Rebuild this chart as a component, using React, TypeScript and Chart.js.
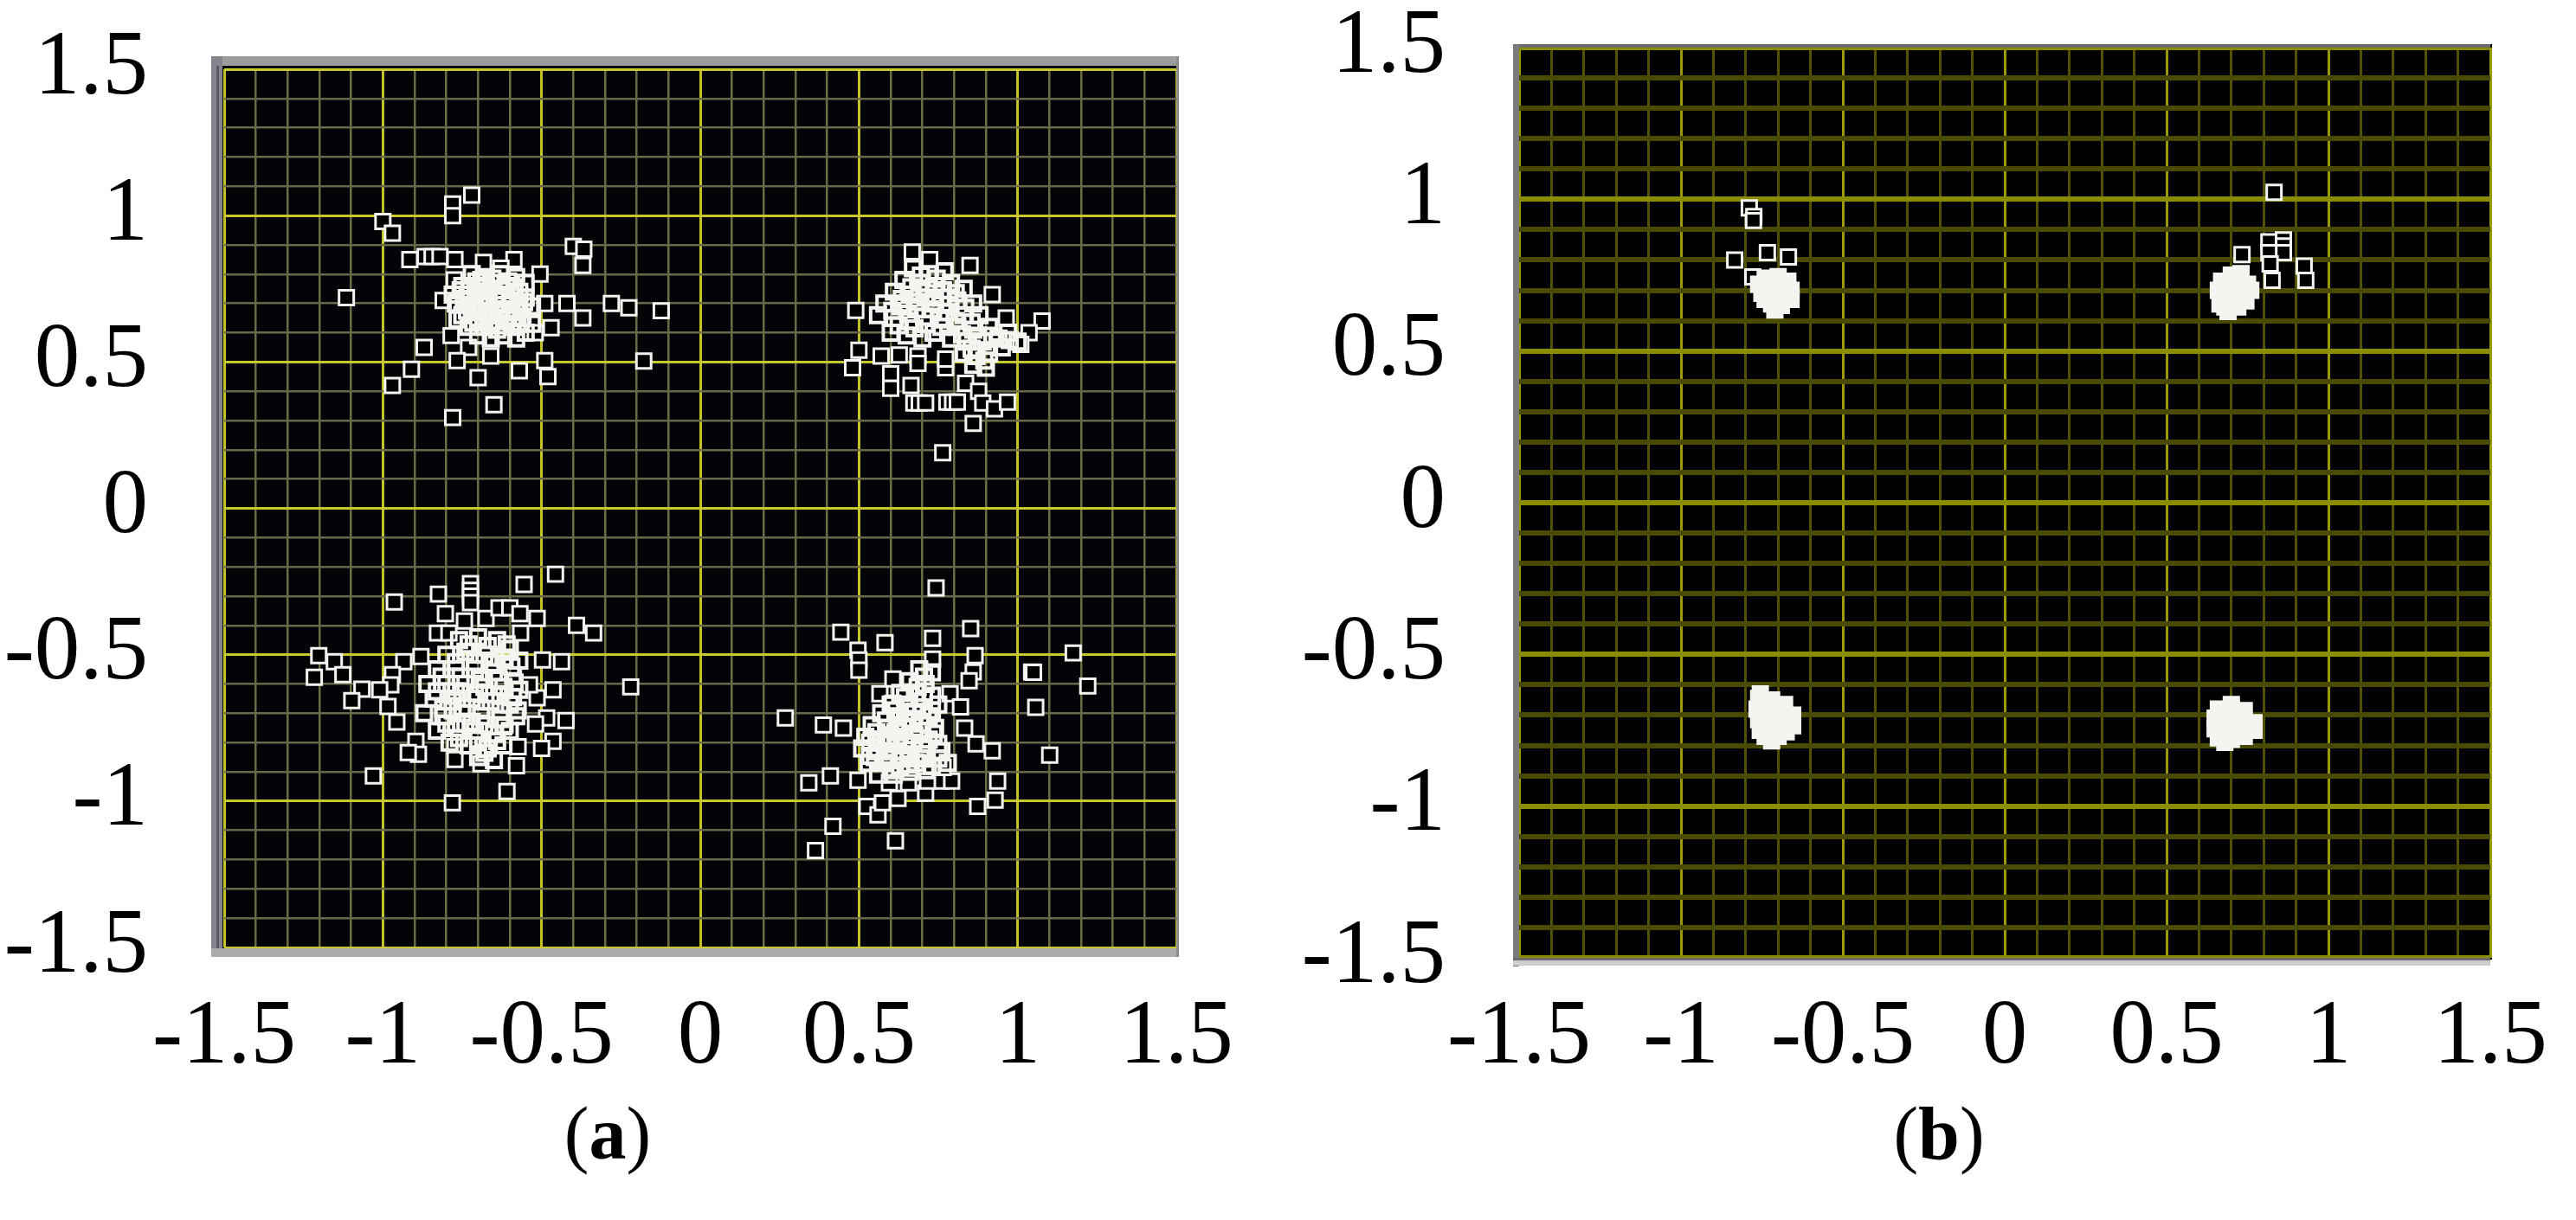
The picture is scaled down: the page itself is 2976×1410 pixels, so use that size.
import React, { useEffect, useRef } from "react";
import { Chart, registerables } from "chart.js";

Chart.register(...registerables);

type P = [number, number];

// ---------- axis definition ----------
const axisMin = -1.5;
const axisMax = 1.5;
const gridStep = 0.1;
const majorStep = 0.5;

// ---------- panel (a): four noisy clusters ----------
const aTopLeftCore: P[] = [
  [-0.72, 0.8], [-0.68, 0.79], [-0.63, 0.8], [-0.58, 0.79], [-0.55, 0.77], [-0.75, 0.76], [-0.7, 0.76],
  [-0.66, 0.77], [-0.61, 0.76], [-0.57, 0.74], [-0.78, 0.73], [-0.73, 0.73], [-0.69, 0.72], [-0.64, 0.73],
  [-0.6, 0.71], [-0.55, 0.72], [-0.53, 0.69], [-0.77, 0.7], [-0.72, 0.69], [-0.67, 0.7], [-0.63, 0.68],
  [-0.58, 0.68], [-0.75, 0.66], [-0.7, 0.65], [-0.66, 0.66], [-0.61, 0.65], [-0.56, 0.65], [-0.53, 0.63],
  [-0.73, 0.62], [-0.68, 0.62], [-0.64, 0.61], [-0.59, 0.62], [-0.55, 0.6], [-0.7, 0.59], [-0.66, 0.58],
  [-0.62, 0.59], [-0.58, 0.58], [-0.67, 0.74], [-0.62, 0.72], [-0.71, 0.68], [-0.6, 0.67], [-0.65, 0.64],
  [-0.69, 0.78], [-0.57, 0.7],
  [-0.705, 0.775], [-0.655, 0.785], [-0.605, 0.775], [-0.725, 0.745], [-0.675, 0.755], [-0.625, 0.745],
  [-0.585, 0.755], [-0.745, 0.715], [-0.695, 0.705], [-0.645, 0.715], [-0.595, 0.695], [-0.555, 0.705],
  [-0.735, 0.675], [-0.685, 0.675], [-0.635, 0.665], [-0.585, 0.655], [-0.715, 0.635], [-0.665, 0.625],
  [-0.615, 0.625], [-0.565, 0.635], [-0.765, 0.645], [-0.755, 0.745],
];
const aTopLeftOuter: P[] = [
  [-0.72, 1.07], [-0.78, 1.04], [-0.78, 1.0], [-1.0, 0.98], [-0.97, 0.94], [-0.915, 0.85], [-0.867, 0.86],
  [-0.845, 0.86], [-0.82, 0.86], [-0.773, 0.85], [-0.683, 0.84], [-0.587, 0.85], [-0.628, 0.82], [-0.505, 0.8],
  [-0.4, 0.895], [-0.367, 0.885], [-0.37, 0.83], [-1.115, 0.72], [-0.775, 0.78], [-0.81, 0.71], [-0.49, 0.7],
  [-0.42, 0.7], [-0.37, 0.65], [-0.28, 0.7], [-0.225, 0.685], [-0.123, 0.675], [-0.47, 0.617], [-0.52, 0.6],
  [-0.785, 0.59], [-0.73, 0.55], [-0.87, 0.55], [-0.766, 0.505], [-0.66, 0.52], [-0.49, 0.505], [-0.178, 0.503],
  [-0.91, 0.475], [-0.97, 0.42], [-0.7, 0.446], [-0.57, 0.47], [-0.48, 0.45], [-0.65, 0.354], [-0.78, 0.31],
];
const aTopRightCore: P[] = [
  [0.67, 0.82], [0.72, 0.8], [0.77, 0.81], [0.64, 0.78], [0.69, 0.77], [0.74, 0.76], [0.79, 0.77], [0.83, 0.75],
  [0.61, 0.74], [0.66, 0.73], [0.71, 0.72], [0.76, 0.72], [0.81, 0.71], [0.86, 0.7], [0.58, 0.7], [0.63, 0.69],
  [0.68, 0.68], [0.73, 0.68], [0.78, 0.67], [0.83, 0.66], [0.88, 0.66], [0.56, 0.66], [0.61, 0.65], [0.66, 0.64],
  [0.71, 0.63], [0.76, 0.62], [0.81, 0.62], [0.86, 0.61], [0.91, 0.62], [0.6, 0.6], [0.65, 0.59], [0.7, 0.58],
  [0.79, 0.58], [0.84, 0.57], [0.89, 0.57], [0.94, 0.58], [0.83, 0.53], [0.87, 0.52], [0.91, 0.53], [0.86, 0.49],
  [0.9, 0.48], [0.97, 0.6], [1.0, 0.57], [0.95, 0.55], [0.74, 0.7], [0.69, 0.74], [0.64, 0.7], [0.77, 0.65],
  [0.695, 0.795], [0.745, 0.785], [0.665, 0.755], [0.715, 0.75], [0.765, 0.745], [0.805, 0.735], [0.635, 0.715],
  [0.685, 0.705], [0.735, 0.705], [0.785, 0.695], [0.835, 0.685], [0.605, 0.675], [0.655, 0.665], [0.705, 0.655],
  [0.755, 0.645], [0.805, 0.64], [0.855, 0.635], [0.625, 0.625], [0.675, 0.615], [0.735, 0.6], [0.825, 0.595],
  [0.875, 0.59], [0.92, 0.59], [0.855, 0.545], [0.895, 0.505], [0.975, 0.575],
];
const aTopRightOuter: P[] = [
  [0.668, 0.876], [0.723, 0.85], [0.85, 0.83], [0.49, 0.676], [0.92, 0.73], [0.964, 0.65], [1.077, 0.64],
  [1.036, 0.6], [1.01, 0.56], [0.5, 0.54], [0.48, 0.48], [0.57, 0.52], [0.627, 0.524], [0.686, 0.52],
  [0.686, 0.495], [0.6, 0.46], [0.6, 0.41], [0.664, 0.42], [0.673, 0.36], [0.69, 0.36], [0.71, 0.36],
  [0.777, 0.363], [0.795, 0.363], [0.81, 0.363], [0.773, 0.48], [0.773, 0.51], [0.836, 0.427], [0.877, 0.4],
  [0.89, 0.36], [0.927, 0.34], [0.968, 0.363], [0.86, 0.29], [0.764, 0.19],
];
const aBottomLeftCore: P[] = [
  [-0.76, -0.45], [-0.7, -0.44], [-0.64, -0.45], [-0.6, -0.48], [-0.8, -0.5], [-0.74, -0.49], [-0.68, -0.5],
  [-0.62, -0.51], [-0.57, -0.52], [-0.83, -0.55], [-0.77, -0.55], [-0.71, -0.55], [-0.65, -0.56], [-0.59, -0.57],
  [-0.86, -0.6], [-0.8, -0.6], [-0.74, -0.6], [-0.68, -0.61], [-0.62, -0.61], [-0.57, -0.62], [-0.84, -0.65],
  [-0.78, -0.66], [-0.72, -0.65], [-0.66, -0.66], [-0.6, -0.67], [-0.87, -0.7], [-0.81, -0.71], [-0.75, -0.7],
  [-0.69, -0.71], [-0.63, -0.72], [-0.58, -0.71], [-0.83, -0.76], [-0.77, -0.75], [-0.71, -0.76], [-0.65, -0.77],
  [-0.6, -0.76], [-0.79, -0.8], [-0.73, -0.81], [-0.67, -0.82], [-0.62, -0.81], [-0.7, -0.85], [-0.65, -0.86],
  [-0.75, -0.63], [-0.69, -0.58], [-0.63, -0.64], [-0.78, -0.69], [-0.72, -0.73], [-0.66, -0.53],
  [-0.73, -0.465], [-0.67, -0.47], [-0.61, -0.465], [-0.77, -0.525], [-0.71, -0.525], [-0.65, -0.53],
  [-0.595, -0.54], [-0.815, -0.575], [-0.755, -0.575], [-0.695, -0.585], [-0.635, -0.585], [-0.585, -0.595],
  [-0.83, -0.625], [-0.77, -0.625], [-0.71, -0.63], [-0.65, -0.635], [-0.59, -0.645], [-0.81, -0.685],
  [-0.75, -0.68], [-0.69, -0.685], [-0.63, -0.69], [-0.575, -0.69], [-0.8, -0.735], [-0.74, -0.735],
  [-0.68, -0.74], [-0.62, -0.745], [-0.76, -0.785], [-0.7, -0.79], [-0.64, -0.795], [-0.68, -0.835],
];
const aBottomLeftOuter: P[] = [
  [-0.456, -0.225], [-0.555, -0.26], [-0.724, -0.257], [-0.724, -0.28], [-0.724, -0.3], [-0.825, -0.293],
  [-0.964, -0.32], [-0.724, -0.322], [-0.803, -0.36], [-0.743, -0.385], [-0.675, -0.376], [-0.634, -0.34],
  [-0.6, -0.34], [-0.568, -0.36], [-0.514, -0.376], [-0.39, -0.4], [-0.336, -0.426], [-0.828, -0.426],
  [-0.792, -0.426], [-0.566, -0.426], [-1.202, -0.503], [-1.153, -0.524], [-1.126, -0.568], [-1.216, -0.577],
  [-0.934, -0.524], [-0.88, -0.506], [-0.97, -0.568], [-0.975, -0.603], [-1.066, -0.618], [-1.098, -0.657],
  [-1.01, -0.62], [-0.984, -0.677], [-0.956, -0.73], [-0.497, -0.518], [-0.437, -0.524], [-0.464, -0.62],
  [-0.514, -0.647], [-0.538, -0.603], [-0.219, -0.61], [-0.484, -0.716], [-0.423, -0.725], [-0.519, -0.737],
  [-0.464, -0.796], [-0.5, -0.82], [-0.896, -0.796], [-0.888, -0.84], [-0.92, -0.834], [-0.773, -0.814],
  [-0.773, -0.858], [-0.691, -0.873], [-0.579, -0.879], [-0.574, -0.814], [-0.615, -0.74], [-1.03, -0.914],
  [-0.609, -0.967], [-0.781, -1.006],
];
const aBottomRightCore: P[] = [
  [0.69, -0.55], [0.73, -0.56], [0.66, -0.59], [0.71, -0.6], [0.63, -0.63], [0.68, -0.63], [0.73, -0.64],
  [0.6, -0.67], [0.65, -0.67], [0.7, -0.68], [0.75, -0.67], [0.57, -0.7], [0.62, -0.71], [0.67, -0.72],
  [0.72, -0.71], [0.54, -0.74], [0.59, -0.75], [0.64, -0.75], [0.69, -0.76], [0.74, -0.75], [0.52, -0.78],
  [0.57, -0.79], [0.62, -0.79], [0.67, -0.8], [0.72, -0.79], [0.51, -0.82], [0.56, -0.83], [0.61, -0.83],
  [0.66, -0.84], [0.71, -0.84], [0.76, -0.83], [0.53, -0.87], [0.58, -0.87], [0.63, -0.88], [0.68, -0.87],
  [0.73, -0.88], [0.78, -0.87], [0.56, -0.91], [0.61, -0.91], [0.66, -0.9], [0.6, -0.78], [0.65, -0.7],
  [0.7, -0.82], [0.55, -0.85],
  [0.705, -0.575], [0.685, -0.61], [0.645, -0.645], [0.705, -0.65], [0.615, -0.69], [0.675, -0.695],
  [0.73, -0.69], [0.585, -0.725], [0.645, -0.73], [0.7, -0.735], [0.555, -0.765], [0.615, -0.765],
  [0.675, -0.775], [0.735, -0.77], [0.535, -0.8], [0.59, -0.805], [0.645, -0.81], [0.7, -0.805],
  [0.75, -0.805], [0.535, -0.845], [0.585, -0.85], [0.64, -0.855], [0.695, -0.855], [0.75, -0.855],
  [0.6, -0.895], [0.655, -0.875], [0.71, -0.895],
];
const aBottomRightOuter: P[] = [
  [0.743, -0.272], [0.443, -0.423], [0.582, -0.459], [0.732, -0.444], [0.852, -0.411], [0.497, -0.485],
  [0.5, -0.518], [0.5, -0.553], [0.732, -0.515], [0.866, -0.503], [0.86, -0.559], [0.847, -0.589],
  [1.175, -0.494], [1.044, -0.559], [1.05, -0.56], [1.221, -0.607], [1.057, -0.68], [1.101, -0.843],
  [0.268, -0.716], [0.388, -0.74], [0.451, -0.751], [0.607, -0.583], [0.566, -0.633], [0.607, -0.666],
  [0.787, -0.633], [0.82, -0.678], [0.833, -0.751], [0.869, -0.805], [0.92, -0.828], [0.342, -0.938],
  [0.41, -0.914], [0.497, -0.929], [0.525, -1.018], [0.56, -1.047], [0.574, -1.006], [0.623, -0.991],
  [0.71, -0.973], [0.757, -0.932], [0.792, -0.932], [0.716, -0.932], [0.765, -0.885], [0.937, -0.932],
  [0.929, -0.997], [0.874, -1.018], [0.418, -1.086], [0.363, -1.169], [0.615, -1.136], [0.596, -0.938],
  [0.656, -0.938],
];

// ---------- panel (b): four tight clusters ----------
const bTopLeft: P[] = [
  [-0.74, 0.74], [-0.7, 0.745], [-0.67, 0.73], [-0.76, 0.72], [-0.72, 0.72], [-0.68, 0.71], [-0.66, 0.7],
  [-0.75, 0.69], [-0.71, 0.69], [-0.67, 0.68], [-0.74, 0.67], [-0.7, 0.665], [-0.66, 0.67], [-0.72, 0.655],
  [-0.69, 0.65], [-0.71, 0.635],
];
const bTopLeftOuter: P[] = [
  [-0.789, 0.972], [-0.775, 0.943], [-0.776, 0.93], [-0.834, 0.8], [-0.733, 0.824], [-0.668, 0.81], [-0.778, 0.744],
];
const bTopRight: P[] = [
  [0.7, 0.75], [0.73, 0.755], [0.67, 0.73], [0.71, 0.73], [0.75, 0.72], [0.66, 0.7], [0.7, 0.7], [0.74, 0.69],
  [0.76, 0.7], [0.67, 0.67], [0.71, 0.67], [0.745, 0.665], [0.68, 0.645], [0.72, 0.645], [0.665, 0.655],
  [0.69, 0.63],
];
const bTopRightOuter: P[] = [
  [0.832, 1.023], [0.816, 0.86], [0.861, 0.866], [0.861, 0.846], [0.861, 0.824], [0.816, 0.824], [0.82, 0.787],
  [0.733, 0.818], [0.925, 0.78], [0.93, 0.733], [0.826, 0.733],
];
const bBottomLeft: P[] = [
  [-0.76, -0.645], [-0.72, -0.65], [-0.68, -0.665], [-0.765, -0.68], [-0.725, -0.685], [-0.685, -0.69],
  [-0.655, -0.7], [-0.76, -0.715], [-0.72, -0.72], [-0.68, -0.725], [-0.655, -0.735], [-0.755, -0.75],
  [-0.715, -0.755], [-0.675, -0.755], [-0.74, -0.77], [-0.7, -0.77], [-0.755, -0.63], [-0.72, -0.785],
];
const bBottomRight: P[] = [
  [0.66, -0.68], [0.7, -0.68], [0.74, -0.685], [0.65, -0.71], [0.69, -0.715], [0.73, -0.715], [0.77, -0.725],
  [0.65, -0.745], [0.69, -0.745], [0.73, -0.75], [0.77, -0.75], [0.66, -0.775], [0.7, -0.78], [0.74, -0.77],
  [0.68, -0.79], [0.7, -0.665],
];

// ---------- styling ----------
const FONT = "'Liberation Serif', 'Times New Roman', serif";
const W = 2976;
const H = 1410;
const HALF = 1488;
const MARK = "#f4f4f0";
const HOLLOW = "rgba(0,0,0,0)";

type Layer = { pts: P[]; fill: string; bw: number };

const panelALayers: Layer[] = [
  { pts: aTopLeftCore, fill: HOLLOW, bw: 4 },
  { pts: aTopRightCore, fill: HOLLOW, bw: 4 },
  { pts: aBottomLeftCore, fill: HOLLOW, bw: 4 },
  { pts: aBottomRightCore, fill: HOLLOW, bw: 4 },
  { pts: aTopLeftOuter, fill: "#000000", bw: 3 },
  { pts: aTopRightOuter, fill: "#000000", bw: 3 },
  { pts: aBottomLeftOuter, fill: "#000000", bw: 3 },
  { pts: aBottomRightOuter, fill: "#000000", bw: 3 },
];
const panelBLayers: Layer[] = [
  { pts: bTopLeft, fill: MARK, bw: 3 },
  { pts: bTopRight, fill: MARK, bw: 3 },
  { pts: bBottomLeft, fill: MARK, bw: 3 },
  { pts: bBottomRight, fill: MARK, bw: 3 },
  { pts: bTopLeftOuter, fill: "#000000", bw: 3 },
  { pts: bTopRightOuter, fill: "#000000", bw: 3 },
];

type Area = { left: number; top: number; right: number; bottom: number };
type PanelStyle = {
  yWidth: number;
  padRight: number;
  padTop: number;
  xHeight: number;
  padBottom: number;
  yTickPad: number;
  xTickPad: number;
  bg: string;
  xMajor: string; xMinor: string; xMajorW: number; xMinorW: number;
  yMajor: string; yMinor: string; yMajorW: number; yMinorW: number;
  frame: (ctx: CanvasRenderingContext2D, a: Area) => void;
};

const styleA: PanelStyle = {
  yWidth: 259, padRight: 129, padTop: 80, xHeight: 200, padBottom: 115,
  yTickPad: 88, xTickPad: 53, bg: "#040408",
  xMajor: "#c2c226", xMinor: "#6c6c44", xMajorW: 3, xMinorW: 2.5,
  yMajor: "#c8c82c", yMinor: "#68684a", yMajorW: 3, yMinorW: 2.5,
  frame: (ctx, a) => {
    ctx.fillStyle = "#9c9c9c";
    ctx.fillRect(a.left - 15, a.top - 15, a.right - a.left + 18, 11);
    ctx.fillStyle = "#84848c";
    ctx.fillRect(a.left - 15, a.top - 15, 13, a.bottom - a.top + 26);
    ctx.fillStyle = "#5a5a62";
    ctx.fillRect(a.left - 9, a.top - 4, 3, a.bottom - a.top + 6);
    ctx.fillStyle = "#ababab";
    ctx.fillRect(a.left - 15, a.bottom + 1, a.right - a.left + 18, 10);
    ctx.fillStyle = "#8c8c8c";
    ctx.fillRect(a.right, a.top - 15, 3, a.bottom - a.top + 26);
  },
};

const styleB: PanelStyle = {
  yWidth: 267, padRight: 99, padTop: 55, xHeight: 200, padBottom: 103,
  yTickPad: 85, xTickPad: 41, bg: "#000000",
  xMajor: "#9a9a00", xMinor: "#525200", xMajorW: 3, xMinorW: 3,
  yMajor: "#8c8c00", yMinor: "#4a4a00", yMajorW: 6, yMinorW: 6,
  frame: (ctx, a) => {
    ctx.fillStyle = "#6c6c6c";
    ctx.fillRect(a.left - 7, a.top - 4, a.right - a.left + 7, 4);
    ctx.fillStyle = "#7a7a7a";
    ctx.fillRect(a.left - 7, a.top - 4, 7, a.bottom - a.top + 14);
    ctx.fillStyle = "#6a6a6a";
    ctx.fillRect(a.left - 7, a.bottom, a.right - a.left + 7, 3);
    ctx.fillStyle = "#cdcdcd";
    ctx.fillRect(a.left - 7, a.bottom + 3, a.right - a.left + 7, 6);
  },
};

const isMajor = (v: number | undefined) =>
  v !== undefined && Math.abs(v / majorStep - Math.round(v / majorStep)) < 1e-6;

const tickLabel = (v: number | string) => {
  const n = Number(v);
  if (!isMajor(n)) return "";
  const r = Math.round(n * 10) / 10;
  return String(r === 0 ? 0 : r);
};

const clearPadding = (axis: any) => {
  axis.paddingTop = 0;
  axis.paddingBottom = 0;
  axis.paddingLeft = 0;
  axis.paddingRight = 0;
};

function buildChart(canvas: HTMLCanvasElement, layers: Layer[], s: PanelStyle) {
  const framePlugin = {
    id: "frameBg",
    beforeDraw(chart: any) {
      const { ctx, chartArea } = chart;
      ctx.save();
      ctx.fillStyle = s.bg;
      ctx.fillRect(chartArea.left - 2, chartArea.top - 4, chartArea.right - chartArea.left + 4, chartArea.bottom - chartArea.top + 6);
      ctx.restore();
    },
    afterDraw(chart: any) {
      const { ctx, chartArea } = chart;
      ctx.save();
      s.frame(ctx, chartArea);
      ctx.restore();
    },
  };

  const tickFont = { family: FONT, size: 105, lineHeight: 1 };

  return new Chart(canvas, {
    type: "scatter",
    data: {
      datasets: layers.map((l) => ({
        data: l.pts.map(([x, y]) => ({ x, y })),
        pointStyle: "rect",
        pointRadius: 12,
        pointHoverRadius: 12,
        pointBorderWidth: l.bw,
        pointBackgroundColor: l.fill,
        pointBorderColor: MARK,
        showLine: false,
      })),
    },
    options: {
      responsive: false,
      maintainAspectRatio: false,
      animation: false,
      events: [],
      layout: { padding: { left: 0, right: s.padRight, top: s.padTop, bottom: s.padBottom } },
      plugins: { legend: { display: false }, tooltip: { enabled: false }, title: { display: false } },
      scales: {
        x: {
          type: "linear",
          min: axisMin,
          max: axisMax,
          ticks: {
            stepSize: gridStep,
            autoSkip: false,
            maxRotation: 0,
            minRotation: 0,
            padding: s.xTickPad,
            color: "#000000",
            font: tickFont,
            callback: tickLabel,
          },
          grid: {
            drawTicks: false,
            color: (c: any) => (isMajor(c.tick?.value) ? s.xMajor : s.xMinor),
            lineWidth: (c: any) => (isMajor(c.tick?.value) ? s.xMajorW : s.xMinorW),
          },
          border: { display: false },
          afterFit: (axis: any) => {
            axis.height = s.xHeight;
            clearPadding(axis);
          },
        },
        y: {
          type: "linear",
          min: axisMin,
          max: axisMax,
          ticks: {
            stepSize: gridStep,
            autoSkip: false,
            padding: s.yTickPad,
            color: "#000000",
            font: tickFont,
            callback: tickLabel,
          },
          grid: {
            drawTicks: false,
            color: (c: any) => (isMajor(c.tick?.value) ? s.yMajor : s.yMinor),
            lineWidth: (c: any) => (isMajor(c.tick?.value) ? s.yMajorW : s.yMinorW),
          },
          border: { display: false },
          afterFit: (axis: any) => {
            axis.width = s.yWidth;
            clearPadding(axis);
          },
        },
      },
    } as any,
    plugins: [framePlugin],
  });
}

function Panel({ left, layers, s }: { left: number; layers: Layer[]; s: PanelStyle }) {
  const ref = useRef<HTMLCanvasElement | null>(null);
  useEffect(() => {
    if (!ref.current) return;
    const chart = buildChart(ref.current, layers, s);
    return () => chart.destroy();
  }, []);
  return (
    <canvas
      ref={ref}
      width={HALF}
      height={H}
      style={{ position: "absolute", left, top: 0, width: HALF, height: H }}
    />
  );
}

const captionStyle = (cx: number): React.CSSProperties => ({
  position: "absolute",
  left: cx,
  top: 1310,
  transform: "translate(-50%, -50%)",
  fontFamily: FONT,
  fontSize: 86,
  lineHeight: 1,
  color: "#000",
  whiteSpace: "nowrap",
});

export default function App() {
  useEffect(() => {
    document.body.style.margin = "0";
  }, []);
  return (
    <div style={{ position: "absolute", left: 0, top: 0, width: W, height: H, background: "#ffffff", overflow: "hidden" }}>
      <Panel left={0} layers={panelALayers} s={styleA} />
      <Panel left={HALF} layers={panelBLayers} s={styleB} />
      <div style={captionStyle(702)}>
        (<b>a</b>)
      </div>
      <div style={captionStyle(2240)}>
        (<b>b</b>)
      </div>
    </div>
  );
}
